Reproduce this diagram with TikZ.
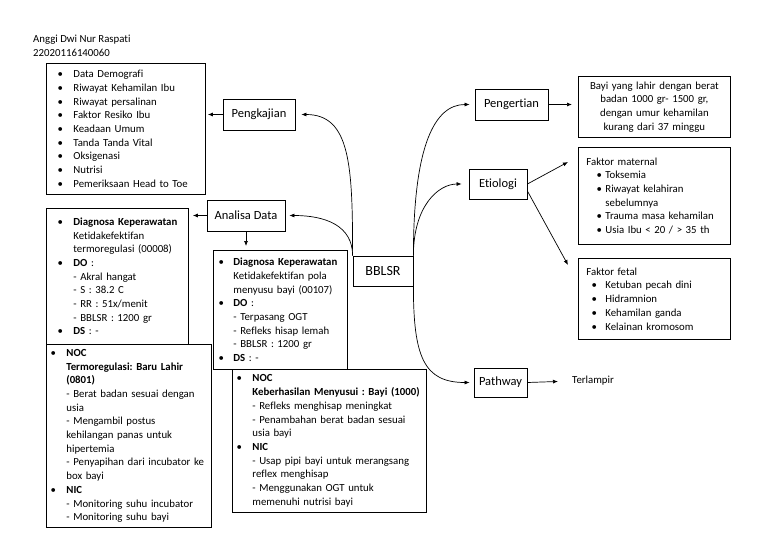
\documentclass[tikz,border=0pt]{standalone}
\usepackage{fontspec}
\setmainfont{Carlito}[Ligatures=NoCommon]
\usetikzlibrary{arrows.meta}
\frenchspacing
\newcommand\setind[2]{\def\bi{\hspace*{#1pt}\makebox[0pt]{\textbullet}\hspace*{\dimexpr#2pt-#1pt\relax}}\def\ci{\hspace*{#2pt}}}
\begin{document}
\begin{tikzpicture}[x=1pt,y=-1pt,font=\fontsize{10.8}{13.7}\selectfont,
  box/.style 2 args={draw,line width=.8pt,fill=white,anchor=north west,inner sep=0pt,align=left,execute at begin node={\setind{#1}{#2}}},
  lbl/.style={draw,line width=.8pt,fill=white,inner sep=0pt,font=\fontsize{12.5}{15}\selectfont},
  arr/.style={-{Latex[length=5pt,width=4pt]},line width=.7pt}]
\useasboundingbox (0,0) rectangle (768,543);
\node (hd) [anchor=west,align=left,inner sep=0pt] at (33,46) {Anggi Dwi Nur Raspati\\22020116140060};
\node (lst) [box={14}{27},text width=159pt,minimum height=131pt] at (46,63) {%
\bi Data Demografi\\
\bi Riwayat Kehamilan Ibu\\
\bi Riwayat persalinan\\
\bi Faktor Resiko Ibu\\
\bi Keadaan Umum\\
\bi Tanda Tanda Vital\\
\bi Oksigenasi\\
\bi Nutrisi\\
\bi Pemeriksaan Head to Toe};
\node (pk) [lbl,minimum width=72pt,minimum height=31pt] at (259,114.5) {Pengkajian};
\node (an) [lbl,minimum width=78pt,minimum height=31pt] at (246,215.5) {Analisa Data};
\node (dx1) [box={14}{27},text width=142pt,minimum height=136pt] at (46,208) {%
\bi\textbf{Diagnosa Keperawatan}\\
\ci Ketidakefektifan\\
\ci termoregulasi (00008)\\
\bi\textbf{DO} :\\
\ci - Akral hangat\\
\ci - S : 38.2 C\\
\ci - RR : 51x/menit\\
\ci - BBLSR : 1200 gr\\
\bi\textbf{DS} : -};
\node (noc1) [box={7}{20},text width=165pt,minimum height=183pt] at (46,344) {%
\bi\textbf{NOC}\\
\ci\textbf{Termoregulasi: Baru Lahir}\\
\ci\textbf{(0801)}\\
\ci - Berat badan sesuai dengan\\
\ci usia\\
\ci - Mengambil postus\\
\ci kehilangan panas untuk\\
\ci hipertemia\\
\ci - Penyapihan dari incubator ke\\
\ci box bayi\\
\bi\textbf{NIC}\\
\ci - Monitoring suhu incubator\\
\ci - Monitoring suhu bayi};
\node (dx2) [box={8}{20},text width=134pt,minimum height=119pt] at (213,250) {%
\bi\textbf{Diagnosa Keperawatan}\\
\ci Ketidakefektifan pola\\
\ci menyusu bayi (00107)\\
\bi\textbf{DO} :\\
\ci - Terpasang OGT\\
\ci - Refleks hisap lemah\\
\ci - BBLSR : 1200 gr\\
\bi\textbf{DS} : -};
\node (noc2) [box={7}{20},text width=194pt,minimum height=143pt] at (232,369) {%
\bi\textbf{NOC}\\
\ci\textbf{Keberhasilan Menyusui : Bayi (1000)}\\
\ci - Refleks menghisap meningkat\\
\ci - Penambahan berat badan sesuai\\
\ci usia bayi\\
\bi\textbf{NIC}\\
\ci - Usap pipi bayi untuk merangsang\\
\ci reflex menghisap\\
\ci - Menggunakan OGT untuk\\
\ci memenuhi nutrisi bayi};
\node (bb) [lbl,minimum width=60pt,minimum height=30pt,font=\fontsize{14}{16}\selectfont] at (383,271) {BBLSR};
\node (pg) [lbl,minimum width=73pt,minimum height=31pt] at (511.5,104.5) {Pengertian};
\node (et) [lbl,minimum width=58pt,minimum height=30pt] at (498,184) {Etiologi};
\node (pw) [lbl,minimum width=53pt,minimum height=29pt] at (500.5,382.5) {Pathway};
\node (df) [box={0}{0},text width=152pt,minimum height=61pt,align=center] at (578,76) {%
Bayi yang lahir dengan berat\\
badan 1000 gr- 1500 gr,\\
dengan umur kehamilan\\
kurang dari 37 minggu};
\node (mat) [box={21}{27},text width=152pt,minimum height=97pt] at (578,147) {%
\hspace*{8pt}Faktor maternal\\
\bi Toksemia\\
\bi Riwayat kelahiran\\
\ci sebelumnya\\
\bi Trauma masa kehamilan\\
\bi Usia Ibu < 20 / > 35 th};
\node (fet) [box={16}{27},text width=152pt,minimum height=81pt] at (578,258) {%
\hspace*{8pt}Faktor fetal\\
\bi Ketuban pecah dini\\
\bi Hidramnion\\
\bi Kehamilan ganda\\
\bi Kelainan kromosom};
\node (tl) [anchor=west,inner sep=0pt] at (572,381) {Terlampir};
\coordinate (mt) at (568,162);
\coordinate (ft) at (568,265);
\draw[arr,shorten >=2pt] (pk.west) -- (lst.east |- pk.west);
\draw[arr,shorten >=4pt] (an.west) -- (dx1.east |- an.west);
\draw[arr,shorten >=4pt] (an.south) -- (an.south |- dx2.north);
\draw[arr,shorten >=6pt] (bb.north west) .. controls +(0,-90) and +(55,0) .. (pk.east);
\draw[arr,shorten >=4pt] (bb.north west) .. controls +(0,-30) and +(40,0) .. (an.east);
\draw[arr,shorten >=5pt] (bb.north east) .. controls +(0,-110) and +(-40,0) .. (pg.west);
\draw[arr,shorten >=7pt] (bb.north east) .. controls +(0,-50) and +(-30,0) .. (et.west);
\draw[arr,shorten >=4pt] (bb.south east) .. controls +(0,70) and +(-50,0) .. (pw.west);
\draw[arr,shorten >=6pt] (pg.east) -- (df.west |- pg.east);
\draw[arr] (et.east) -- (mt);
\draw[arr] ([yshift=-7pt]et.east) -- (ft);
\draw[arr,shorten >=14pt] (pw.east) -- (tl.west);
\end{tikzpicture}
\end{document}
